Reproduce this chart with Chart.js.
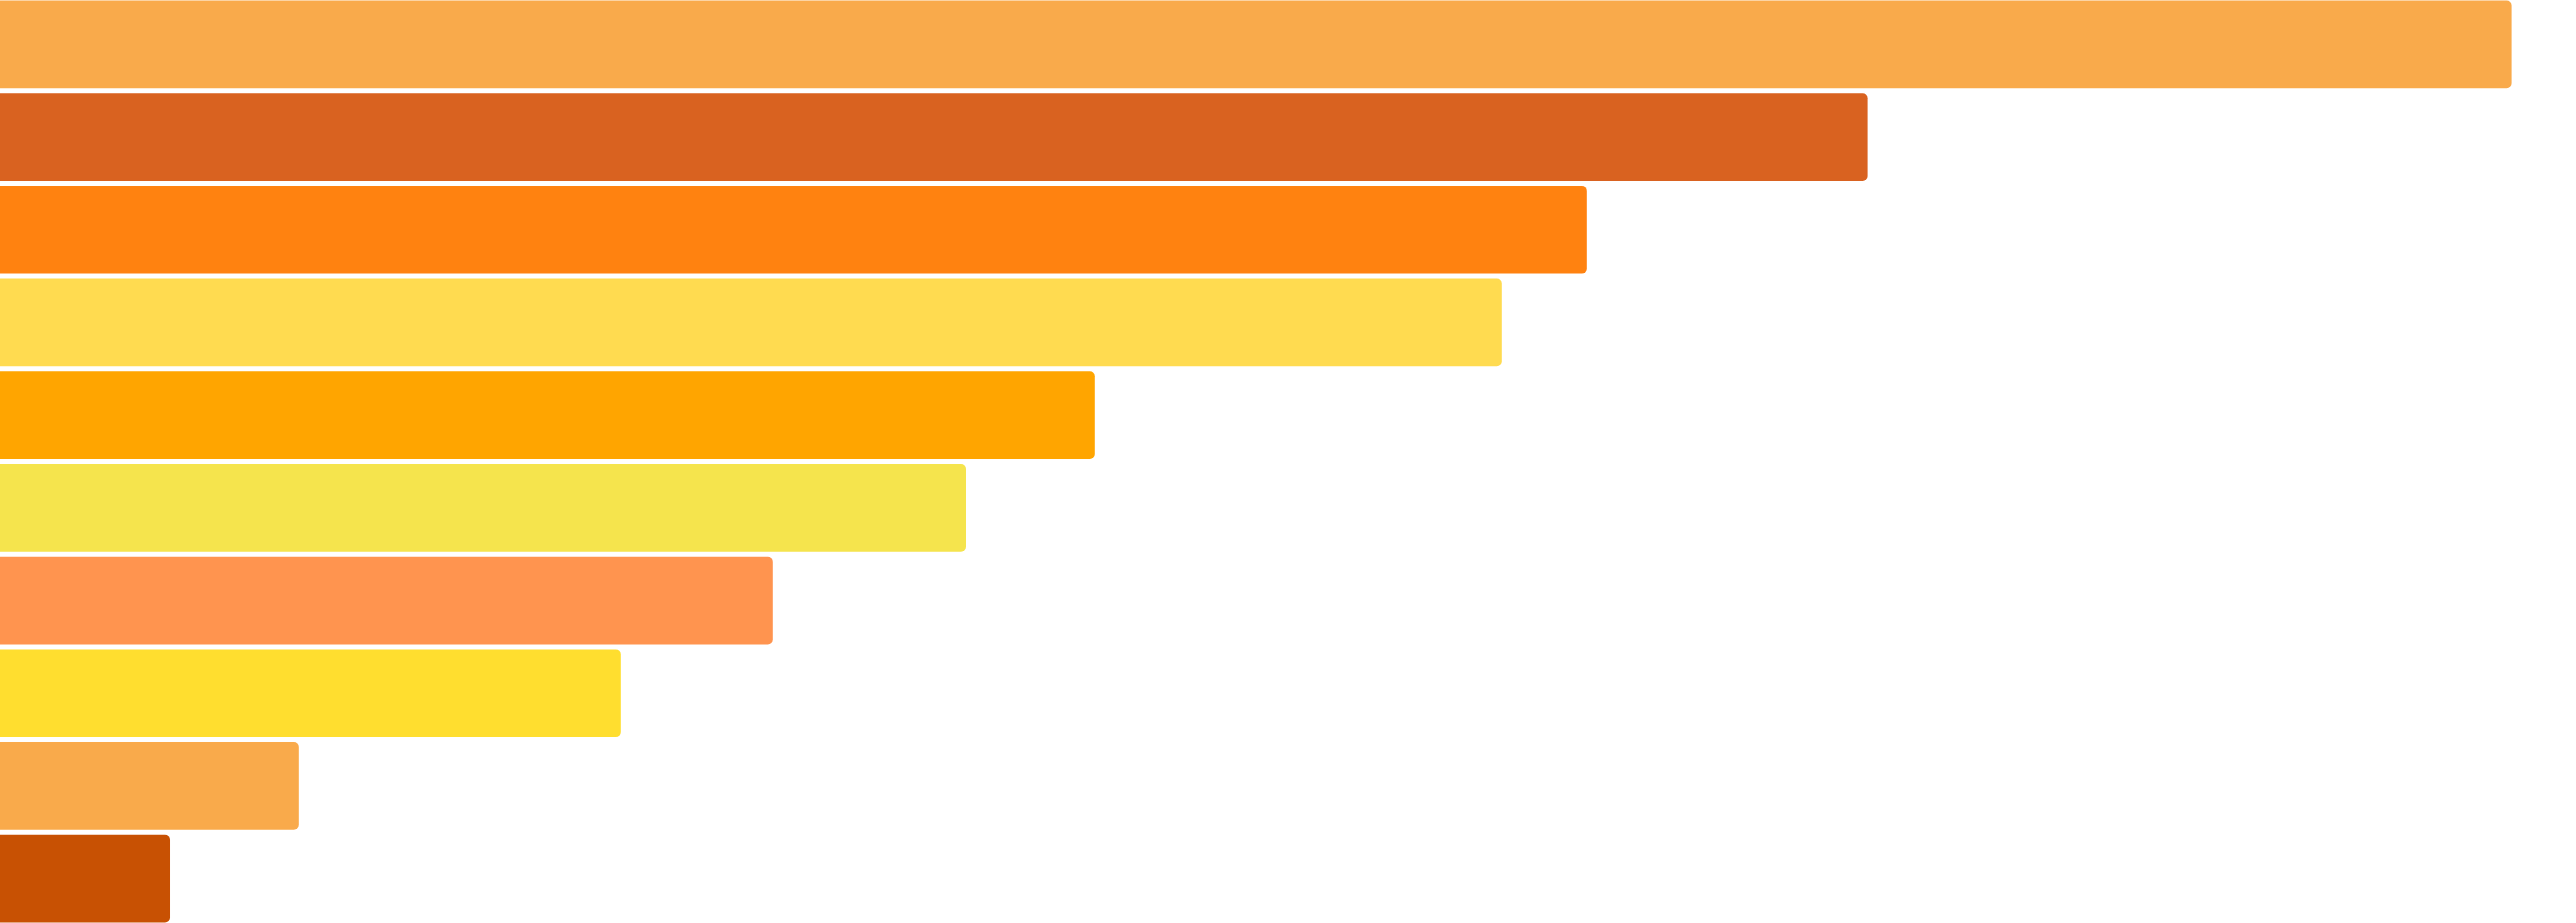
<!DOCTYPE html>
<html>
<head>
<meta charset="utf-8">
<title>Bars</title>
<script src="https://cdn.jsdelivr.net/npm/chart.js@4"></script>
<style>
  html, body { margin: 0; padding: 0; background: #fff; overflow: hidden; }
  #wrap { position: relative; width: 2576px; height: 923px; overflow: hidden; }
  #inner { position: absolute; left: 0; top: -2px; width: 2576px; height: 927px; }
</style>
</head>
<body>
<div id="wrap"><div id="inner"><canvas id="chart"></canvas></div></div>
<script>
// values (hidden axis, 0..100)
const labels = ["A", "B", "C", "D", "E", "F", "G", "H", "I", "J"];
const values = [97.5, 72.5, 61.6, 58.3, 42.5, 37.5, 30.0, 24.1, 11.6, 6.6];
const barColors = [
  "#f9aa4b", "#d96220", "#ff8210", "#ffdb50", "#ffa500",
  "#f5e44d", "#ff944f", "#ffde2f", "#f9aa4b", "#c85103"
];
const axisMax = 100;

new Chart(document.getElementById("chart"), {
  type: "bar",
  data: {
    labels,
    datasets: [
      {
        data: values,
        backgroundColor: barColors,
        borderWidth: 0,
        borderRadius: 5,
        borderSkipped: "start",
        barPercentage: 1.0,
        categoryPercentage: 0.946,
      },
    ],
  },
  options: {
    indexAxis: "y",
    responsive: true,
    maintainAspectRatio: false,
    animation: false,
    layout: { padding: 0 },
    plugins: {
      legend: { display: false },
      tooltip: { enabled: false },
    },
    scales: {
      x: { display: false, min: 0, max: axisMax },
      y: { display: false },
    },
  },
});
</script>
</body>
</html>
